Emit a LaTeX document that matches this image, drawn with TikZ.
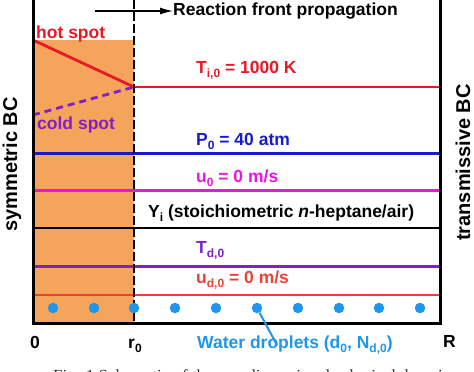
\documentclass[tikz,border=0pt]{standalone}
\usepackage{fontspec}
\setmainfont{Liberation Sans}
\newfontfamily\capfont{Liberation Serif}
\usetikzlibrary{arrows.meta}
\definecolor{cred}{RGB}{232,24,36}
\definecolor{cred2}{RGB}{238,64,54}
\definecolor{cblue}{RGB}{24,28,200}
\definecolor{cmag}{RGB}{236,20,228}
\definecolor{cpur}{RGB}{128,32,200}
\definecolor{clb}{RGB}{30,150,238}
\definecolor{corange}{RGB}{245,164,92}
\newcommand\lowsub[1]{\raisebox{-4pt}{\fontsize{12}{12}\selectfont #1}}
\begin{document}
\begin{tikzpicture}[x=1pt,y=-1pt,
  lbl/.style={inner sep=0pt, anchor=base west, font=\fontsize{17.5}{20}\selectfont\bfseries},
  vlbl/.style={inner sep=0pt, anchor=base, rotate=90, font=\fontsize{20}{22}\selectfont\bfseries},
  hline/.style={line width=2.8pt},
  drop/.style={circle, fill=clb, minimum size=10.5pt, inner sep=0pt},
  frame/.style={line width=3pt, line join=miter}]
\useasboundingbox (0,0) rectangle (474,372);
% region coordinates
\coordinate (TL) at (33,0);
\coordinate (BL) at (33,323);
\coordinate (BR) at (440,323);
\coordinate (TR) at (440,0);
\coordinate (ot) at (33,40);
\coordinate (ob) at (134,323);
\coordinate (rt) at (134,0);
\coordinate (hs) at (33,40);
\coordinate (cs) at (33,115);
\coordinate (jn) at (134,87);
% orange hot region
\fill[corange] (ot) rectangle (ob);
% horizontal lines
\foreach \y/\n in {87/T, 153.5/P, 190.5/U, 228/Y, 266.5/TD, 295/UD}{
  \coordinate (\n a) at (33,\y);
  \coordinate (\n b) at (440,\y);
}
\draw[hline, cred] (jn) -- (Tb);
\draw[hline, cred] (hs) -- (jn);
\draw[hline, cpur, dash pattern=on 7pt off 5pt] (cs) -- (jn);
\draw[hline, cblue] (Pa) -- (Pb);
\draw[hline, cmag] (Ua) -- (Ub);
\draw[hline, black] (Ya) -- (Yb);
\draw[hline, cpur] (TDa) -- (TDb);
\draw[hline, cred2] (UDa) -- (UDb);
% r0 dashed line
\draw[line width=2pt, dash pattern=on 9pt off 3pt] (rt) -- (ob);
% frame
\draw[frame] (TL) -- (BL) -- (BR) -- (TR);
% droplets
\foreach \i/\x in {1/53,2/94,3/134,4/175,5/216,6/257,7/298,8/339,9/379,10/420}{
  \node[drop] (d\i) at (\x,308) {};
}
% top arrow
\node[lbl] (rfp) at (173,16) {Reaction front propagation};
\coordinate (arrS) at (95,11);
\draw[line width=1.2pt, -{Latex[length=13pt,width=7pt]}] (arrS) -- (arrS -| rfp.west);
% labels
\node[lbl, text=cred] (hot) at (36,38) {hot spot};
\node[lbl, text=cred] (Ti) at (196,73) {T\lowsub{i,0} = 1000 K};
\node[lbl, text=cpur] (cold) at (37,129) {cold spot};
\node[lbl, text=cblue] (P0) at (196,145) {P\lowsub{0} = 40 atm};
\node[lbl, text=cmag] (u0) at (196,182) {u\lowsub{0} = 0 m/s};
\node[lbl] (Yi) at (148,217) {Y\lowsub{i} (stoichiometric \textit{n}-heptane/air)};
\node[lbl, text=cpur] (Td) at (196,253) {T\lowsub{d,0}};
\node[lbl, text=cred2] (ud) at (196,283) {u\lowsub{d,0} = 0 m/s};
\node[lbl] (zero) at (30,348) {0};
\node[lbl] (r0) at (128,348) {r\lowsub{0}};
\node[lbl] (R) at (443,347) {R};
\node[lbl, text=clb] (water) at (197,348) {Water droplets (d\lowsub{0}, N\lowsub{d,0})};
\coordinate (ptr) at (277,345);
\draw[clb, line width=2pt] (d6) -- (ptr);
% side labels
\node[vlbl] (sym) at (17,164.5) {symmetric BC};
\node[vlbl] (trans) at (470,162.5) {transmissive BC};
% cropped caption
\node[inner sep=0pt, anchor=base west, font=\capfont\fontsize{17}{19}\selectfont, text=black!80] (cap) at (53,381) {Fig. 1 Schematic of the one-dimensional spherical domain};
\end{tikzpicture}
\end{document}
